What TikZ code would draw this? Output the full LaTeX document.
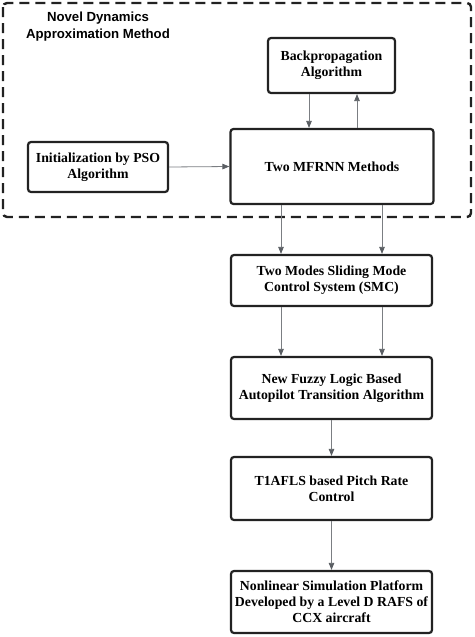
\documentclass[tikz,border=0pt]{standalone}
\usepackage{fontspec}
\setmainfont{Liberation Serif}
\newfontfamily\titelfont{Liberation Sans}
\usetikzlibrary{arrows.meta}
\definecolor{rahmen}{HTML}{222222}
\definecolor{pfeilgrau}{HTML}{5A5E63}
\tikzset{
  kasten/.style={draw=rahmen, line width=2.2pt, rounded corners=3pt, align=center,
    inner sep=0pt, font=\fontsize{13.8}{16}\selectfont\bfseries},
  pfeil/.style={draw=pfeilgrau!80, line width=0.8pt, -{Triangle[length=7pt,width=5.5pt,color=pfeilgrau]}}
}
\begin{document}
\begin{tikzpicture}[x=1pt,y=-1pt]
  \useasboundingbox (0,0) rectangle (474,637);

  % Gestrichelter Rahmen
  \draw[rahmen, line width=2.4pt, dash pattern=on 10pt off 6pt, rounded corners=4pt]
    (3,3) rectangle (471,217);
  \node[font=\titelfont\fontsize{13.2}{17}\selectfont\bfseries, align=center] (titel) at (98,27)
    {Novel Dynamics\\Approximation Method};

  % Kaesten
  \node[kasten, minimum width=127pt, minimum height=55pt] (backprop) at (331.5,65.5)
    {Backpropagation\\Algorithm};
  \node[kasten, minimum width=140pt, minimum height=50pt] (pso) at (98,167)
    {Initialization by PSO\\Algorithm};
  \node[kasten, minimum width=203pt, minimum height=75pt] (mfrnn) at (332,166.5)
    {Two MFRNN Methods};
  \node[kasten, minimum width=201pt, minimum height=51pt] (smc) at (331.5,280.5)
    {Two Modes Sliding Mode\\Control System (SMC)};
  \node[kasten, minimum width=201pt, minimum height=62pt] (fuzzy) at (331.5,388)
    {New Fuzzy Logic Based\\Autopilot Transition Algorithm};
  \node[kasten, minimum width=201pt, minimum height=63pt] (pitch) at (331.5,488.5)
    {T1AFLS based Pitch Rate\\Control};
  \node[kasten, minimum width=201pt, minimum height=62pt] (sim) at (331.5,602)
    {Nonlinear Simulation Platform\\Developed by a Level D RAFS of\\CCX aircraft};

  % Pfeile
  \draw[pfeil] ([xshift=-22.5pt]backprop.south) -- ([xshift=-23pt]mfrnn.north);
  \draw[pfeil] ([xshift=25pt]mfrnn.north) -- ([xshift=25.5pt]backprop.south);
  \draw[pfeil] (pso.east) -- (mfrnn.west);
  \draw[pfeil] ([xshift=-51pt]mfrnn.south) -- ([xshift=-50.5pt]smc.north);
  \draw[pfeil] ([xshift=50pt]mfrnn.south) -- ([xshift=50.5pt]smc.north);
  \draw[pfeil] ([xshift=-50.5pt]smc.south) -- ([xshift=-50.5pt]fuzzy.north);
  \draw[pfeil] ([xshift=50.5pt]smc.south) -- ([xshift=50.5pt]fuzzy.north);
  \draw[pfeil] (fuzzy) -- (pitch);
  \draw[pfeil] (pitch) -- (sim);
\end{tikzpicture}
\end{document}
